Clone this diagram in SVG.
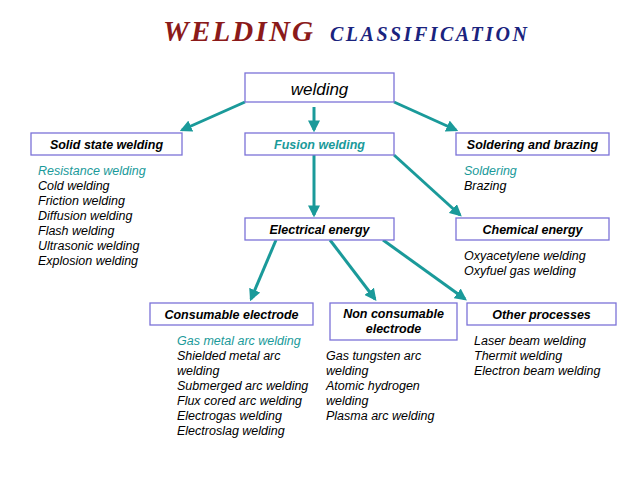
<svg xmlns="http://www.w3.org/2000/svg" width="638" height="478" viewBox="0 0 638 478">
<style>
.b{fill:#fff;stroke:#7b72d8;stroke-width:1.3}
.t{font-family:"Liberation Sans",Arial,sans-serif;font-style:italic;font-size:12.5px;fill:#000}
.h{font-weight:bold;text-anchor:middle}
.c{fill:#1a9a9a}
.l{stroke:#1a9a9a;stroke-width:3;fill:none;marker-end:url(#a)}
</style>
<defs><marker id="a" viewBox="0 0 10 10" refX="8" refY="5" markerWidth="4" markerHeight="4" orient="auto" markerUnits="strokeWidth"><path d="M0,0L10,5L0,10z" fill="#1a9a9a"/></marker></defs>
<rect width="638" height="478" fill="#fff"/>
<text x="163" y="41" font-family="Liberation Serif,serif" font-weight="bold" font-style="italic" font-size="29" fill="#8b1a1a" textLength="150">WELDING</text>
<text x="330" y="41" font-family="Liberation Serif,serif" font-weight="bold" font-style="italic" font-size="20" fill="#1a237e" textLength="197">CLASSIFICATION</text>
<g id="connectors">
<line class="l" x1="245" y1="102" x2="182" y2="130"/>
<line class="l" x1="314" y1="107" x2="314" y2="130"/>
<line class="l" x1="394" y1="102" x2="456" y2="130"/>
<line class="l" x1="314" y1="155" x2="314" y2="215"/>
<line class="l" x1="394" y1="155" x2="460" y2="215"/>
<line class="l" x1="276" y1="240" x2="251" y2="299"/>
<line class="l" x1="330" y1="240" x2="375" y2="299"/>
<line class="l" x1="383" y1="240" x2="465" y2="299"/>
</g>
<g id="welding"><rect class="b" x="245" y="73" width="149" height="29"/><text class="t" x="319.5" y="95" text-anchor="middle" style="font-size:17px">welding</text></g>
<g id="solid"><rect class="b" x="31" y="133" width="151" height="22"/><text class="t h" x="106.5" y="148.5">Solid state welding</text>
<text class="t" x="38" y="175"><tspan class="c">Resistance welding</tspan><tspan x="38" dy="15">Cold welding</tspan><tspan x="38" dy="15">Friction welding</tspan><tspan x="38" dy="15">Diffusion welding</tspan><tspan x="38" dy="15">Flash welding</tspan><tspan x="38" dy="15">Ultrasonic welding</tspan><tspan x="38" dy="15">Explosion welding</tspan></text></g>
<g id="fusion"><rect class="b" x="245" y="133" width="149" height="22"/><text class="t h c" x="319.5" y="148.5">Fusion welding</text></g>
<g id="soldering"><rect class="b" x="456" y="133" width="153" height="22"/><text class="t h" x="532.5" y="148.5">Soldering and brazing</text>
<text class="t" x="464" y="175"><tspan class="c">Soldering</tspan><tspan x="464" dy="15">Brazing</tspan></text></g>
<g id="electrical"><rect class="b" x="245" y="218" width="149" height="22"/><text class="t h" x="319.5" y="233.5">Electrical energy</text></g>
<g id="chemical"><rect class="b" x="456" y="218" width="153" height="22"/><text class="t h" x="532.5" y="233.5">Chemical energy</text>
<text class="t" x="464" y="260">Oxyacetylene welding<tspan x="464" dy="15">Oxyfuel gas welding</tspan></text></g>
<g id="consumable"><rect class="b" x="150" y="303" width="163" height="22"/><text class="t h" x="231.5" y="318.5">Consumable electrode</text>
<text class="t" x="177" y="345"><tspan class="c">Gas metal arc welding</tspan><tspan x="177" dy="15">Shielded metal arc</tspan><tspan x="177" dy="15">welding</tspan><tspan x="177" dy="15">Submerged arc welding</tspan><tspan x="177" dy="15">Flux cored arc welding</tspan><tspan x="177" dy="15">Electrogas welding</tspan><tspan x="177" dy="15">Electroslag welding</tspan></text></g>
<g id="nonconsumable"><rect class="b" x="330" y="303" width="127" height="37"/><text class="t h" x="393.5" y="318">Non consumable<tspan x="393.5" dy="15">electrode</tspan></text>
<text class="t" x="326" y="360">Gas tungsten arc<tspan x="326" dy="15">welding</tspan><tspan x="326" dy="15">Atomic hydrogen</tspan><tspan x="326" dy="15">welding</tspan><tspan x="326" dy="15">Plasma arc welding</tspan></text></g>
<g id="other"><rect class="b" x="467" y="303" width="149" height="22"/><text class="t h" x="541.5" y="318.5">Other processes</text>
<text class="t" x="474" y="345">Laser beam welding<tspan x="474" dy="15">Thermit welding</tspan><tspan x="474" dy="15">Electron beam welding</tspan></text></g>
</svg>
